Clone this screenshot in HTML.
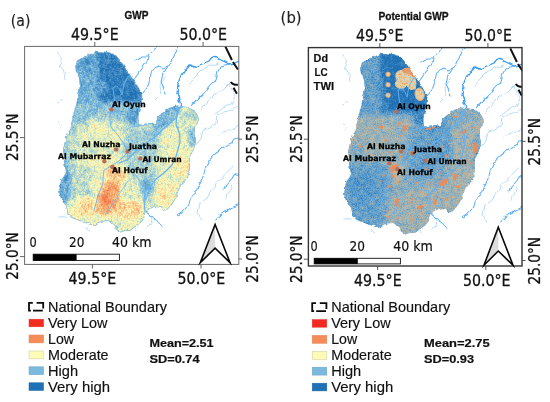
<!DOCTYPE html>
<html><head><meta charset="utf-8"><title>GWP maps</title>
<style>
html,body{margin:0;padding:0;background:#fff;overflow:hidden}
svg{display:block}
text{font-family:"DejaVu Sans","Liberation Sans",sans-serif;fill:#111}
.lab{font-family:"DejaVu Sans","Liberation Sans",sans-serif;font-weight:bold;font-size:7.75px;fill:#000;stroke:#000;stroke-width:0.25px}
.ax{font-size:16px;fill:#111;stroke:#111;stroke-width:0.3px}
.sc{font-size:13.7px;fill:#111;stroke:#111;stroke-width:0.2px}
.ttl{font-family:"Liberation Sans",sans-serif;font-weight:bold;font-size:11.6px;fill:#111;stroke:#111;stroke-width:0.3px}
.leg{font-family:"Liberation Sans",sans-serif;font-size:14.2px;fill:#111;stroke:#111;stroke-width:0.15px}
.st{font-family:"Liberation Sans",sans-serif;font-weight:bold;font-size:11.7px;fill:#111;stroke:#111;stroke-width:0.2px}
.pl{font-size:15.5px;fill:#222;stroke:#222;stroke-width:0.15px}
</style></head><body>
<svg width="550" height="402" viewBox="0 0 550 402">
<defs>
<clipPath id="reg"><path d="M93,53 L96,51.5 L99,51 L104,51.5 L110,52.6 L114,54 L117,56 L120,60 L123,64 L126,68.5 L129,73 L132.5,78 L136,83 L139,88 L141,92 L142.5,96 L142,99 L141,106 L139,113 L138.5,118 L139,124 L143,125 L150,124 L156,123 L156.5,120 L157,117 L160,114.5 L162,113 L166,110 L169,108 L174,106 L178,105.5 L182,106 L187,107 L192,109 L195,111.5 L197,114 L198.5,117 L199,120 L197,124 L195,127 L195,131 L195,135 L196,139 L196,143 L194,149 L192,153 L190,157 L190,161 L190,165 L190,169 L189.5,173 L188,177 L186,180 L183,183 L181,185 L179.5,189 L178,193 L176.5,197 L175,200 L173,203 L171,206 L167,210 L164,211 L162,211 L160,208 L157,207 L154,207 L151,208 L148,210 L145,213 L144.5,216 L144,219 L141,222.5 L138,225 L134,228 L130,231 L125,231 L122,232 L119,233 L116.5,229 L114,225 L111,222.5 L108,221 L103,221.5 L98,223 L95,225.5 L93,226 L88,224 L82,222 L78,220.5 L74,219 L70,217 L67,215 L67,210 L66,206 L63,202 L61,199 L59.5,195 L59,191 L61,180 L64,176 L66,172 L64.5,166 L64,160 L63,150 L65,140 L69,130 L72,120 L73,115 L76,105 L78,95 L79.6,85 L79,78 L76,71 L75,65 L78,60 L85,56Z"/></clipPath>
<filter id="rough" color-interpolation-filters="sRGB" filterUnits="userSpaceOnUse" x="40" y="35" width="180" height="215">
 <feTurbulence type="fractalNoise" baseFrequency="0.22" numOctaves="2" seed="2" result="t"/>
 <feDisplacementMap in="SourceGraphic" in2="t" scale="3.4" xChannelSelector="R" yChannelSelector="G"/>
</filter>
<filter id="btex" color-interpolation-filters="sRGB" filterUnits="userSpaceOnUse" x="95" y="60" width="50" height="45">
 <feTurbulence type="fractalNoise" baseFrequency="0.55" numOctaves="2" seed="7" result="t"/>
 <feColorMatrix in="t" type="matrix" values="0 0 0 0 0.95  0 0 0 0 0.64  0 0 0 0 0.42  6 0 0 0 -3.35" result="o"/>
 <feColorMatrix in="t" type="matrix" values="0 0 0 0 0.62  0 0 0 0 0.78  0 0 0 0 0.86  0 6 0 0 -3.5" result="bl"/>
 <feComposite in="o" in2="SourceGraphic" operator="atop" result="c1"/>
 <feComposite in="bl" in2="c1" operator="atop"/>
</filter>
<filter id="wig" color-interpolation-filters="sRGB" filterUnits="userSpaceOnUse" x="20" y="40" width="225" height="230">
 <feTurbulence type="fractalNoise" baseFrequency="0.13" numOctaves="2" seed="6" result="t"/>
 <feDisplacementMap in="SourceGraphic" in2="t" scale="4.5" xChannelSelector="R" yChannelSelector="G"/>
</filter>
<mask id="regm" maskUnits="userSpaceOnUse" x="40" y="35" width="180" height="215"><path d="M93,53 L96,51.5 L99,51 L104,51.5 L110,52.6 L114,54 L117,56 L120,60 L123,64 L126,68.5 L129,73 L132.5,78 L136,83 L139,88 L141,92 L142.5,96 L142,99 L141,106 L139,113 L138.5,118 L139,124 L143,125 L150,124 L156,123 L156.5,120 L157,117 L160,114.5 L162,113 L166,110 L169,108 L174,106 L178,105.5 L182,106 L187,107 L192,109 L195,111.5 L197,114 L198.5,117 L199,120 L197,124 L195,127 L195,131 L195,135 L196,139 L196,143 L194,149 L192,153 L190,157 L190,161 L190,165 L190,169 L189.5,173 L188,177 L186,180 L183,183 L181,185 L179.5,189 L178,193 L176.5,197 L175,200 L173,203 L171,206 L167,210 L164,211 L162,211 L160,208 L157,207 L154,207 L151,208 L148,210 L145,213 L144.5,216 L144,219 L141,222.5 L138,225 L134,228 L130,231 L125,231 L122,232 L119,233 L116.5,229 L114,225 L111,222.5 L108,221 L103,221.5 L98,223 L95,225.5 L93,226 L88,224 L82,222 L78,220.5 L74,219 L70,217 L67,215 L67,210 L66,206 L63,202 L61,199 L59.5,195 L59,191 L61,180 L64,176 L66,172 L64.5,166 L64,160 L63,150 L65,140 L69,130 L72,120 L73,115 L76,105 L78,95 L79.6,85 L79,78 L76,71 L75,65 L78,60 L85,56Z" fill="#fff" filter="url(#rough)"/></mask>
<clipPath id="fa"><rect x="24.6" y="46.4" width="214.2" height="218"/></clipPath>
<clipPath id="fb"><rect x="308.3" y="47.5" width="213.8" height="218"/></clipPath>
<filter id="clsA" color-interpolation-filters="sRGB" filterUnits="userSpaceOnUse" x="40" y="35" width="180" height="215">
 <feGaussianBlur in="SourceGraphic" stdDeviation="2.2" result="b"/>
 <feTurbulence type="fractalNoise" baseFrequency="0.7" numOctaves="2" seed="3" result="n1"/>
 <feColorMatrix in="n1" type="matrix" values="1 0 0 0 0  1 0 0 0 0  1 0 0 0 0  0 0 0 0 1" result="g1"/>
 <feTurbulence type="fractalNoise" baseFrequency="0.09" numOctaves="2" seed="11" result="n2"/>
 <feColorMatrix in="n2" type="matrix" values="1 0 0 0 0  1 0 0 0 0  1 0 0 0 0  0 0 0 0 1" result="g2"/>
 <feComposite in="b" in2="g1" operator="arithmetic" k1="0" k2="1" k3="0.3" k4="-0.15" result="s1"/>
 <feComposite in="s1" in2="g2" operator="arithmetic" k1="0" k2="1" k3="0.16" k4="-0.08" result="s2a"/>
 <feTurbulence type="fractalNoise" baseFrequency="0.3 0.22" numOctaves="2" seed="29" result="n3"/>
 <feColorMatrix in="n3" type="matrix" values="1 0 0 0 0  1 0 0 0 0  1 0 0 0 0  0 0 0 0 1" result="g3"/>
 <feComposite in="s2a" in2="g3" operator="arithmetic" k1="0" k2="1" k3="0.26" k4="-0.13" result="s2"/>
 <feComponentTransfer in="s2">
  <feFuncR type="table" tableValues="0.910 0.961 0.992 0.490 0.129"/>
  <feFuncG type="table" tableValues="0.271 0.569 0.984 0.729 0.443"/>
  <feFuncB type="table" tableValues="0.184 0.361 0.722 0.871 0.710"/>
 </feComponentTransfer>
</filter>
<filter id="clsB" color-interpolation-filters="sRGB" filterUnits="userSpaceOnUse" x="40" y="35" width="180" height="215">
 <feGaussianBlur in="SourceGraphic" stdDeviation="2.2" result="b"/>
 <feTurbulence type="fractalNoise" baseFrequency="0.8" numOctaves="2" seed="5" result="n1"/>
 <feColorMatrix in="n1" type="matrix" values="1 0 0 0 0  1 0 0 0 0  1 0 0 0 0  0 0 0 0 1" result="g1"/>
 <feTurbulence type="fractalNoise" baseFrequency="0.2" numOctaves="2" seed="21" result="n2"/>
 <feColorMatrix in="n2" type="matrix" values="1 0 0 0 0  1 0 0 0 0  1 0 0 0 0  0 0 0 0 1" result="g2"/>
 <feComposite in="b" in2="g1" operator="arithmetic" k1="0" k2="1" k3="0.5" k4="-0.25" result="s1"/>
 <feComposite in="s1" in2="g2" operator="arithmetic" k1="0" k2="1" k3="0.3" k4="-0.15" result="s2"/>
 <feComponentTransfer in="s2" result="c">
  <feFuncR type="table" tableValues="0.941 0.914 0.706 0.365 0.129"/>
  <feFuncG type="table" tableValues="0.510 0.659 0.725 0.624 0.443"/>
  <feFuncB type="table" tableValues="0.306 0.471 0.671 0.816 0.710"/>
 </feComponentTransfer>
 <feGaussianBlur in="c" stdDeviation="0.4"/>
</filter>
<filter id="orB" color-interpolation-filters="sRGB" filterUnits="userSpaceOnUse" x="40" y="35" width="180" height="215">
 <feTurbulence type="fractalNoise" baseFrequency="0.17" numOctaves="3" seed="8"/>
 <feColorMatrix type="matrix" values="0 0 0 0 0.94  0 0 0 0 0.55  0 0 0 0 0.33  10 0 0 0 -6.9" result="o"/>
 <feComposite in="o" in2="SourceGraphic" operator="in"/>
</filter>
</defs>
<rect width="550" height="402" fill="#fff"/>

<!-- ================= MAP A ================= -->
<g clip-path="url(#fa)">
 <g filter="url(#wig)"><path d="M189,84 L195,78 L203,70 L209,66 L219,63" fill="none" stroke="#b4d9fa" stroke-width="0.95" stroke-linejoin="round" stroke-linecap="round"/><path d="M201,110 L207,102 L215,94 L223,90 L229,84 L231,82" fill="none" stroke="#b4d9fa" stroke-width="0.95" stroke-linejoin="round" stroke-linecap="round"/><path d="M215,114 L223,108 L231,104 L235,96 L229,84" fill="none" stroke="#b4d9fa" stroke-width="0.95" stroke-linejoin="round" stroke-linecap="round"/><path d="M155,100 L161,94 L159,86 L165,78" fill="none" stroke="#b4d9fa" stroke-width="0.95" stroke-linejoin="round" stroke-linecap="round"/><path d="M239,105.5 L229,110.7 L222,112.4 L216.8,116 L216,123 L210,128 L203,130 L201,138.5 L197.6,145.5" fill="none" stroke="#b4d9fa" stroke-width="0.95" stroke-linejoin="round" stroke-linecap="round"/><path d="M239,124.6 L230.7,130 L222,132.5 L218.5,135" fill="none" stroke="#b4d9fa" stroke-width="0.95" stroke-linejoin="round" stroke-linecap="round"/><path d="M233.4,166 L224,175.5 L216.6,183 L211,190.4 L207.3,198 L199.9,203.5 L198,212.8 L201.7,220" fill="none" stroke="#b4d9fa" stroke-width="0.95" stroke-linejoin="round" stroke-linecap="round"/><path d="M231.6,185 L229.7,192 L226,198" fill="none" stroke="#b4d9fa" stroke-width="0.95" stroke-linejoin="round" stroke-linecap="round"/><path d="M57.6,53.5 L61.3,58.4 L60,66 L63.8,71 L65,79.6" fill="none" stroke="#b4d9fa" stroke-width="0.95" stroke-linejoin="round" stroke-linecap="round"/><path d="M57.6,103 L62.6,99.5" fill="none" stroke="#b4d9fa" stroke-width="0.95" stroke-linejoin="round" stroke-linecap="round"/><path d="M57.6,120.6 L61.3,125.6 L58.8,129" fill="none" stroke="#b4d9fa" stroke-width="0.95" stroke-linejoin="round" stroke-linecap="round"/><path d="M58.8,216 L66.3,218.4" fill="none" stroke="#b4d9fa" stroke-width="0.95" stroke-linejoin="round" stroke-linecap="round"/><path d="M85,227 L88.7,232" fill="none" stroke="#b4d9fa" stroke-width="0.95" stroke-linejoin="round" stroke-linecap="round"/><path d="M136,217 L132,224 L136,230" fill="none" stroke="#b4d9fa" stroke-width="0.95" stroke-linejoin="round" stroke-linecap="round"/><path d="M150,215 L152,222 L148,228" fill="none" stroke="#b4d9fa" stroke-width="0.95" stroke-linejoin="round" stroke-linecap="round"/><path d="M135,78 L141,70 L147,62 L148,56 L154,50 L157,46" fill="none" stroke="#5fb0f6" stroke-width="1.05" stroke-linejoin="round" stroke-linecap="round"/><path d="M135,60 L143,56 L148,56" fill="none" stroke="#5fb0f6" stroke-width="1.05" stroke-linejoin="round" stroke-linecap="round"/><path d="M143,92 L149,84 L150,74 L155,68 L159,66 L163,68 L168,66 L172,60 L175,54 L178,48 L180,46" fill="none" stroke="#5fb0f6" stroke-width="1.05" stroke-linejoin="round" stroke-linecap="round"/><path d="M168,66 L163,74 L161,82 L164,88 L166,94" fill="none" stroke="#5fb0f6" stroke-width="1.05" stroke-linejoin="round" stroke-linecap="round"/><path d="M193,104 L199,98 L205,92 L209,86 L215,80 L217,72 L221,66 L229,64" fill="none" stroke="#5fb0f6" stroke-width="1.05" stroke-linejoin="round" stroke-linecap="round"/><path d="M203,95 L197.6,100 L192.4,105.5" fill="none" stroke="#5fb0f6" stroke-width="1.05" stroke-linejoin="round" stroke-linecap="round"/><path d="M239,137.7 L232.5,139.4 L229,145.5 L222,149 L215,154 L209,160.6 L205.4,168 L203.6,175.5 L199.9,183 L198,190.4 L190.5,198 L188.7,205.4 L183,211 L177.5,214.7" fill="none" stroke="#5fb0f6" stroke-width="1.05" stroke-linejoin="round" stroke-linecap="round"/><path d="M239,175.5 L234.4,174.6 L231.6,179 L226,185 L224,190" fill="none" stroke="#5fb0f6" stroke-width="1.05" stroke-linejoin="round" stroke-linecap="round"/><path d="M239,204.4 L231.6,208 L227.8,211 L220.4,214.7 L214.8,220" fill="none" stroke="#5fb0f6" stroke-width="1.05" stroke-linejoin="round" stroke-linecap="round"/><path d="M145,211 L150,215 L158,223 L162,227" fill="none" stroke="#5fb0f6" stroke-width="1.05" stroke-linejoin="round" stroke-linecap="round"/><path d="M180,110 L180.6,104 L177,94 L178,84 L180,78 L185,70 L189,65 L195,67 L202,64 L209,61 L212,57 L217,58 L223,61 L229,64 L235,63 L239,61" fill="none" stroke="#3b9cf1" stroke-width="1.35" stroke-linejoin="round" stroke-linecap="round"/></g>
 <g mask="url(#regm)">
  <g filter="url(#clsA)"><rect x="40" y="35" width="180" height="215" fill="#8c8c8c"/><path d="M70,45 L150,45 L150,100 L140,110 L70,110Z" fill="#dbdbdb" opacity="1"/><path d="M70,50 L95,50 L97,104 L70,108Z" fill="#c9c9c9" opacity="1"/><path d="M99,53 L116,53 L131,76 L140,95 L136,104 L120,101 L105,101 L100,86Z" fill="#f2f2f2" opacity="1"/><ellipse cx="103" cy="85" rx="3" ry="6" fill="#c7c7c7" opacity="0.8"/><ellipse cx="88" cy="66" rx="6" ry="10" fill="#dbdbdb" opacity="0.7" transform="rotate(-30 88 66)"/><path d="M66,103 L145,103 L145,119 L66,125Z" fill="#b8b8b8" opacity="1"/><ellipse cx="134" cy="116" rx="6" ry="9" fill="#d9d9d9" opacity="0.9"/><ellipse cx="98" cy="121" rx="16" ry="4" fill="#999999" opacity="0.9" transform="rotate(-8 98 121)"/><path d="M58,128 L78,124 L76,180 L56,180Z" fill="#a6a6a6" opacity="1"/><ellipse cx="62" cy="160" rx="4" ry="18" fill="#bdbdbd" opacity="0.8"/><ellipse cx="101" cy="141" rx="22" ry="20" fill="#8f8f8f" opacity="1"/><ellipse cx="100" cy="131" rx="10" ry="8" fill="#828282" opacity="1"/><ellipse cx="100" cy="160" rx="10" ry="5" fill="#707070" opacity="0.9"/><ellipse cx="113" cy="170" rx="7" ry="5" fill="#616161" opacity="0.9"/><path d="M125,126 L160,124 L160,150 L150,170 L132,180 L124,160Z" fill="#ababab" opacity="1"/><ellipse cx="133" cy="120" rx="8" ry="5" fill="#d1d1d1" opacity="0.9"/><path d="M160,128 L200,120 L200,185 L170,212 L160,190Z" fill="#878787" opacity="1"/><path d="M154,100 L182,100 L178,116 L165,128 L154,134Z" fill="#c7c7c7" opacity="1"/><ellipse cx="190" cy="115" rx="10" ry="7" fill="#9e9e9e" opacity="0.9"/><ellipse cx="192" cy="137" rx="4.5" ry="11" fill="#c4c4c4" opacity="0.95"/><ellipse cx="184" cy="165" rx="7" ry="12" fill="#737373" opacity="0.9"/><path d="M55,165 L69,165 L71,198 L64,206 L55,200Z" fill="#cccccc" opacity="1"/><ellipse cx="66" cy="178" rx="3.5" ry="6" fill="#e6e6e6" opacity="0.8"/><path d="M69,166 L92,168 L90,198 L72,204Z" fill="#9e9e9e" opacity="1"/><ellipse cx="108" cy="198" rx="11" ry="19" fill="#4c4c4c" opacity="1" transform="rotate(22 108 198)"/><ellipse cx="107" cy="197" rx="5" ry="11" fill="#3d3d3d" opacity="0.9" transform="rotate(22 107 197)"/><ellipse cx="87" cy="207" rx="13" ry="10" fill="#696969" opacity="0.95"/><ellipse cx="128" cy="210" rx="15" ry="10" fill="#666666" opacity="0.95"/><ellipse cx="117" cy="177" rx="11" ry="7" fill="#616161" opacity="0.9"/><ellipse cx="147" cy="186" rx="9" ry="16" fill="#b0b0b0" opacity="0.95" transform="rotate(12 147 186)"/><ellipse cx="147" cy="184" rx="4" ry="8" fill="#c4c4c4" opacity="0.9" transform="rotate(12 147 184)"/><ellipse cx="166" cy="195" rx="9" ry="14" fill="#787878" opacity="0.9" transform="rotate(20 166 195)"/></g>
  <path d="M93,53 L96,51.5 L99,51 L104,51.5 L110,52.6 L114,54 L117,56 L120,60 L123,64 L126,68.5 L129,73 L132.5,78 L136,83 L139,88 L141,92 L142.5,96 L142,99 L141,106 L139,113 L138.5,118 L139,124 L143,125 L150,124 L156,123 L156.5,120 L157,117 L160,114.5 L162,113 L166,110 L169,108 L174,106 L178,105.5 L182,106 L187,107 L192,109 L195,111.5 L197,114 L198.5,117 L199,120 L197,124 L195,127 L195,131 L195,135 L196,139 L196,143 L194,149 L192,153 L190,157 L190,161 L190,165 L190,169 L189.5,173 L188,177 L186,180 L183,183 L181,185 L179.5,189 L178,193 L176.5,197 L175,200 L173,203 L171,206 L167,210 L164,211 L162,211 L160,208 L157,207 L154,207 L151,208 L148,210 L145,213 L144.5,216 L144,219 L141,222.5 L138,225 L134,228 L130,231 L125,231 L122,232 L119,233 L116.5,229 L114,225 L111,222.5 L108,221 L103,221.5 L98,223 L95,225.5 L93,226 L88,224 L82,222 L78,220.5 L74,219 L70,217 L67,215 L67,210 L66,206 L63,202 L61,199 L59.5,195 L59,191 L61,180 L64,176 L66,172 L64.5,166 L64,160 L63,150 L65,140 L69,130 L72,120 L73,115 L76,105 L78,95 L79.6,85 L79,78 L76,71 L75,65 L78,60 L85,56Z" fill="none" stroke="#6fb0dc" stroke-width="1.6" opacity="0.75" filter="url(#rough)"/>
  <path d="M180,107 L176,118 L165.5,127 L156,136 L138,149 L127,160 L119,163" fill="none" stroke="#62b2f3" stroke-width="1.2" stroke-linejoin="round" stroke-linecap="round"/><path d="M180,104 L178.5,105.5 L176.7,116 L176,124.6 L179.4,133 L180,142 L177.6,150.7 L176,156 L172,165 L164,173 L156,179 L150,187 L145,191 L144,201 L145,211" fill="none" stroke="#62b2f3" stroke-width="1.2" stroke-linejoin="round" stroke-linecap="round"/><path d="M109.5,110 L112,106 L115,102.5 L114,96 L113,88 L117,86 L120,90 L122,95 L124,84 L128,77 L133,75 L135,78" fill="none" stroke="#66b4f3" stroke-width="0.9" stroke-linejoin="round" stroke-linecap="round"/><path d="M111,110 L109.5,116 L111,127 L117,134 L122,141 L128,152 L119,161 L109.5,167 L104,170 L103,178 L103,183 L98,196 L94,210.5" fill="none" stroke="#66b4f3" stroke-width="0.9" stroke-linejoin="round" stroke-linecap="round"/><path d="M128,181 L113,203 L106,214" fill="none" stroke="#6ab6f4" stroke-width="0.8" stroke-linejoin="round" stroke-linecap="round"/><path d="M135,174 L142,185 L146,196 L144,208.6" fill="none" stroke="#6ab6f4" stroke-width="0.8" stroke-linejoin="round" stroke-linecap="round"/><path d="M126,130 L131,127 L142,125 L155,123" fill="none" stroke="#6ab6f4" stroke-width="0.8" stroke-linejoin="round" stroke-linecap="round"/>
 </g>
 <path d="M225.3,46.4 L231.9,60 M232.9,62 L237.9,69.5 M230.9,81.8 Q232,84.8 237.9,84.8 M233.5,87.8 L236.9,93.8" stroke="#111" stroke-width="2" fill="none"/>
</g>
<circle cx="111.4" cy="109.4" r="2.2" fill="#b56e58"/><circle cx="116" cy="149.4" r="2.2" fill="#b56e58"/><circle cx="127.6" cy="151.4" r="2.2" fill="#b56e58"/><circle cx="104.4" cy="161.2" r="2.2" fill="#b56e58"/><circle cx="140.4" cy="158.4" r="2.2" fill="#b56e58"/><circle cx="112.4" cy="167" r="2.2" fill="#b56e58"/><text x="112" y="107" textLength="33.6" lengthAdjust="spacingAndGlyphs" class="lab">Al Oyun</text><text x="82" y="146.6" textLength="38.4" lengthAdjust="spacingAndGlyphs" class="lab">Al Nuzha</text><text x="129" y="149.4" textLength="28" lengthAdjust="spacingAndGlyphs" class="lab">Juatha</text><text x="58" y="159" textLength="53" lengthAdjust="spacingAndGlyphs" class="lab">Al Mubarraz</text><text x="142.4" y="161.5" textLength="39.2" lengthAdjust="spacingAndGlyphs" class="lab">Al Umran</text><text x="112" y="173" textLength="35.6" lengthAdjust="spacingAndGlyphs" class="lab">Al Hofuf</text>
<rect x="24.6" y="46.4" width="214.2" height="218" fill="none" stroke="#6a6a6a" stroke-width="1"/>
<path d="M94.8,42 V46.4 M203.1,42 V46.4 M92.4,264.4 V268.5 M201,264.4 V268.5 M20,137.6 H24.6 M20,256.6 H24.6 M238.8,139.2 H242 M238.8,259 H242" stroke="#555" stroke-width="0.9" fill="none"/>
<text class="ax" x="71" y="39.8" textLength="47.6" lengthAdjust="spacingAndGlyphs">49.5°E</text>
<text class="ax" x="179.4" y="39.8" textLength="47.6" lengthAdjust="spacingAndGlyphs">50.0°E</text>
<text class="ax" x="68.6" y="284" textLength="47.6" lengthAdjust="spacingAndGlyphs">49.5°E</text>
<text class="ax" x="177.6" y="284" textLength="47.6" lengthAdjust="spacingAndGlyphs">50.0°E</text>
<text class="ax" transform="translate(18.4,160.9) rotate(-90)" textLength="47.5" lengthAdjust="spacingAndGlyphs">25.5°N</text>
<text class="ax" transform="translate(18.4,279.8) rotate(-90)" textLength="47.5" lengthAdjust="spacingAndGlyphs">25.0°N</text>
<text class="ax" transform="translate(257.5,163.1) rotate(-90)" textLength="47.5" lengthAdjust="spacingAndGlyphs">25.5°N</text>
<text class="ax" transform="translate(257.5,282.7) rotate(-90)" textLength="47.5" lengthAdjust="spacingAndGlyphs">25.0°N</text>
<text class="pl" x="10.8" y="25.6" textLength="19.6" lengthAdjust="spacingAndGlyphs">(a)</text>
<text class="ttl" x="124.4" y="19" textLength="24" lengthAdjust="spacingAndGlyphs">GWP</text>
<!-- scale bar A -->
<rect x="33.2" y="254.2" width="86.2" height="6.3" fill="#fff" stroke="#111" stroke-width="0.9"/>
<rect x="33.2" y="254.2" width="43.4" height="6.3" fill="#000"/>
<text class="sc" x="29.4" y="247.1" textLength="7.2" lengthAdjust="spacingAndGlyphs">0</text>
<text class="sc" x="69" y="247.1" textLength="15.4" lengthAdjust="spacingAndGlyphs">20</text>
<text class="sc" x="112" y="247.1" textLength="39.6" lengthAdjust="spacingAndGlyphs">40 km</text>
<!-- north arrow A -->
<path d="M215.1,224.5 L230,262.6 L215.1,248.2 L200.3,262.6 Z" fill="#fff"/>
<path d="M215.1,224.5 L200.3,262.6 L215.1,248.2 Z" fill="#dcdcdc"/>
<path d="M215.1,224.5 L230,262.6 L215.1,248.2 L200.3,262.6 Z" fill="none" stroke="#0a0a0a" stroke-width="1.6" stroke-linejoin="miter" stroke-miterlimit="10"/>

<!-- legend A -->
<g id="legA">
<path d="M32.8,302.8 H29 V310.7 H30.9 M36.6,302.8 H43.2 V308.6 M33,310.7 H42.8" fill="none" stroke="#0a0a0a" stroke-width="1.8"/>
<rect x="29" y="319.2" width="14.6" height="7.6" fill="#f32a20" stroke="#e0352a" stroke-width="0.5"/>
<rect x="29" y="335" width="14.6" height="7.9" fill="#f68d58" stroke="#e08352" stroke-width="0.5"/>
<rect x="29" y="351" width="14.6" height="7.9" fill="#fdfbb6" stroke="#c9c9a2" stroke-width="0.5"/>
<rect x="29" y="366.8" width="14.6" height="7.9" fill="#7bb9dd" stroke="#6ba3c4" stroke-width="0.5"/>
<rect x="29" y="382.8" width="14.6" height="7.7" fill="#2070b5" stroke="#1c66a6" stroke-width="0.5"/>
<text class="leg" x="48" y="311.7" textLength="119" lengthAdjust="spacingAndGlyphs">National Boundary</text>
<text class="leg" x="48" y="327.7" textLength="59.4" lengthAdjust="spacingAndGlyphs">Very Low</text>
<text class="leg" x="48" y="343.7" textLength="26" lengthAdjust="spacingAndGlyphs">Low</text>
<text class="leg" x="48" y="359.8" textLength="60.6" lengthAdjust="spacingAndGlyphs">Moderate</text>
<text class="leg" x="48" y="375.7" textLength="30" lengthAdjust="spacingAndGlyphs">High</text>
<text class="leg" x="48" y="391.5" textLength="62" lengthAdjust="spacingAndGlyphs">Very high</text>
</g>
<text class="st" x="149.4" y="347.3" textLength="64.2" lengthAdjust="spacingAndGlyphs">Mean=2.51</text>
<text class="st" x="149.4" y="362.8" textLength="50.2" lengthAdjust="spacingAndGlyphs">SD=0.74</text>

<!-- ================= MAP B ================= -->
<g clip-path="url(#fb)">
 <g transform="translate(285,2)">
 <g filter="url(#wig)"><path d="M189,84 L195,78 L203,70 L209,66 L219,63" fill="none" stroke="#b4d9fa" stroke-width="0.95" stroke-linejoin="round" stroke-linecap="round"/><path d="M201,110 L207,102 L215,94 L223,90 L229,84 L231,82" fill="none" stroke="#b4d9fa" stroke-width="0.95" stroke-linejoin="round" stroke-linecap="round"/><path d="M215,114 L223,108 L231,104 L235,96 L229,84" fill="none" stroke="#b4d9fa" stroke-width="0.95" stroke-linejoin="round" stroke-linecap="round"/><path d="M155,100 L161,94 L159,86 L165,78" fill="none" stroke="#b4d9fa" stroke-width="0.95" stroke-linejoin="round" stroke-linecap="round"/><path d="M239,105.5 L229,110.7 L222,112.4 L216.8,116 L216,123 L210,128 L203,130 L201,138.5 L197.6,145.5" fill="none" stroke="#b4d9fa" stroke-width="0.95" stroke-linejoin="round" stroke-linecap="round"/><path d="M239,124.6 L230.7,130 L222,132.5 L218.5,135" fill="none" stroke="#b4d9fa" stroke-width="0.95" stroke-linejoin="round" stroke-linecap="round"/><path d="M233.4,166 L224,175.5 L216.6,183 L211,190.4 L207.3,198 L199.9,203.5 L198,212.8 L201.7,220" fill="none" stroke="#b4d9fa" stroke-width="0.95" stroke-linejoin="round" stroke-linecap="round"/><path d="M231.6,185 L229.7,192 L226,198" fill="none" stroke="#b4d9fa" stroke-width="0.95" stroke-linejoin="round" stroke-linecap="round"/><path d="M57.6,53.5 L61.3,58.4 L60,66 L63.8,71 L65,79.6" fill="none" stroke="#b4d9fa" stroke-width="0.95" stroke-linejoin="round" stroke-linecap="round"/><path d="M57.6,103 L62.6,99.5" fill="none" stroke="#b4d9fa" stroke-width="0.95" stroke-linejoin="round" stroke-linecap="round"/><path d="M57.6,120.6 L61.3,125.6 L58.8,129" fill="none" stroke="#b4d9fa" stroke-width="0.95" stroke-linejoin="round" stroke-linecap="round"/><path d="M58.8,216 L66.3,218.4" fill="none" stroke="#b4d9fa" stroke-width="0.95" stroke-linejoin="round" stroke-linecap="round"/><path d="M85,227 L88.7,232" fill="none" stroke="#b4d9fa" stroke-width="0.95" stroke-linejoin="round" stroke-linecap="round"/><path d="M136,217 L132,224 L136,230" fill="none" stroke="#b4d9fa" stroke-width="0.95" stroke-linejoin="round" stroke-linecap="round"/><path d="M150,215 L152,222 L148,228" fill="none" stroke="#b4d9fa" stroke-width="0.95" stroke-linejoin="round" stroke-linecap="round"/><path d="M135,78 L141,70 L147,62 L148,56 L154,50 L157,46" fill="none" stroke="#5fb0f6" stroke-width="1.05" stroke-linejoin="round" stroke-linecap="round"/><path d="M135,60 L143,56 L148,56" fill="none" stroke="#5fb0f6" stroke-width="1.05" stroke-linejoin="round" stroke-linecap="round"/><path d="M143,92 L149,84 L150,74 L155,68 L159,66 L163,68 L168,66 L172,60 L175,54 L178,48 L180,46" fill="none" stroke="#5fb0f6" stroke-width="1.05" stroke-linejoin="round" stroke-linecap="round"/><path d="M168,66 L163,74 L161,82 L164,88 L166,94" fill="none" stroke="#5fb0f6" stroke-width="1.05" stroke-linejoin="round" stroke-linecap="round"/><path d="M193,104 L199,98 L205,92 L209,86 L215,80 L217,72 L221,66 L229,64" fill="none" stroke="#5fb0f6" stroke-width="1.05" stroke-linejoin="round" stroke-linecap="round"/><path d="M203,95 L197.6,100 L192.4,105.5" fill="none" stroke="#5fb0f6" stroke-width="1.05" stroke-linejoin="round" stroke-linecap="round"/><path d="M239,137.7 L232.5,139.4 L229,145.5 L222,149 L215,154 L209,160.6 L205.4,168 L203.6,175.5 L199.9,183 L198,190.4 L190.5,198 L188.7,205.4 L183,211 L177.5,214.7" fill="none" stroke="#5fb0f6" stroke-width="1.05" stroke-linejoin="round" stroke-linecap="round"/><path d="M239,175.5 L234.4,174.6 L231.6,179 L226,185 L224,190" fill="none" stroke="#5fb0f6" stroke-width="1.05" stroke-linejoin="round" stroke-linecap="round"/><path d="M239,204.4 L231.6,208 L227.8,211 L220.4,214.7 L214.8,220" fill="none" stroke="#5fb0f6" stroke-width="1.05" stroke-linejoin="round" stroke-linecap="round"/><path d="M145,211 L150,215 L158,223 L162,227" fill="none" stroke="#5fb0f6" stroke-width="1.05" stroke-linejoin="round" stroke-linecap="round"/><path d="M180,110 L180.6,104 L177,94 L178,84 L180,78 L185,70 L189,65 L195,67 L202,64 L209,61 L212,57 L217,58 L223,61 L229,64 L235,63 L239,61" fill="none" stroke="#3b9cf1" stroke-width="1.35" stroke-linejoin="round" stroke-linecap="round"/></g>
 <g mask="url(#regm)">
  <g filter="url(#clsB)"><rect x="40" y="35" width="180" height="215" fill="#a1a1a1"/><path d="M70,45 L150,45 L150,100 L140,112 L70,112Z" fill="#dbdbdb" opacity="1"/><path d="M70,50 L94,50 L96,110 L70,112Z" fill="#bababa" opacity="1"/><path d="M97,52 L116,52 L132,76 L141,95 L138,110 L120,108 L101,108Z" fill="#ffffff" opacity="1"/><ellipse cx="135" cy="116" rx="6" ry="8" fill="#e6e6e6" opacity="0.9"/><path d="M62,119 L80,114 L100,117 L124,113 L122,150 L100,160 L62,158Z" fill="#919191" opacity="1"/><ellipse cx="72" cy="150" rx="6" ry="12" fill="#adadad" opacity="0.8"/><path d="M55,160 L100,162 L108,195 L95,228 L55,220Z" fill="#bababa" opacity="1"/><ellipse cx="78" cy="185" rx="12" ry="14" fill="#cccccc" opacity="0.8"/><path d="M128,124 L165,120 L170,150 L150,174 L130,178 L122,160Z" fill="#b8b8b8" opacity="1"/><ellipse cx="124" cy="150" rx="6" ry="12" fill="#b2b2b2" opacity="0.9"/><ellipse cx="150" cy="122" rx="10" ry="7" fill="#d6d6d6" opacity="0.9"/><path d="M166,126 L200,112 L200,185 L170,212 L158,192 L168,160Z" fill="#8f8f8f" opacity="1"/><path d="M104,192 L158,180 L175,205 L120,235 L98,226Z" fill="#919191" opacity="1"/><ellipse cx="192" cy="150" rx="4" ry="16" fill="#b8b8b8" opacity="0.8"/><ellipse cx="112" cy="168" rx="6" ry="7" fill="#5c5c5c" opacity="0.9"/><ellipse cx="111" cy="180" rx="3" ry="6" fill="#7a7a7a" opacity="0.8"/></g>
  <path d="M68,124 L100,116 L140,126 L160,120 L170,104 L205,104 L205,215 L130,240 L100,230 L102,195 L92,172 L70,160Z" filter="url(#orB)"/>
  <g filter="url(#btex)" transform="translate(-0.6,-0.8)"><path d="M111.5,72.7 L113.4,70.2 L117.8,69 L120.9,67.1 L125.2,67.1 L127.7,70.2 L130.2,74.5 L130.9,77.7 L131.5,82.6 L130.9,87.6 L126.5,88.2 L124,86.4 L122.1,83.9 L120.3,86.4 L117.8,87.6 L114.7,87 L111.5,85.1 L110.9,82 L112.8,78.9 L111.5,75.8Z" fill="#e4d3a4" stroke="#e4d3a4" stroke-width="1" stroke-linejoin="round"/><path d="M117.8,69 L120.9,67.1 L125.2,67.1 L127.7,70.2 L130.2,74.5 L130.9,77.7 L128.4,75.8 L125.9,72.7 L122.1,72.1 L119,71.4Z" fill="#f39058" stroke="#f39058" stroke-width="0.6" stroke-linejoin="round"/><ellipse cx="135.2" cy="93.2" rx="4.6" ry="6.4" fill="#e6cfa0" stroke="#f0a870" stroke-width="0.8" transform="rotate(-12 135.2 93.2)"/><path d="M112,80 q3,2 6,0 M114,75 q4,3 8,1 M118,84 q2,-3 5,-2 M124,80 q2,2 5,1" stroke="#f1b482" stroke-width="0.9" fill="none"/><circle cx="103.7" cy="73.1" r="2.3" fill="#efcf9c" stroke="#f0a56c" stroke-width="0.7"/><circle cx="103.7" cy="83.5" r="2.3" fill="#efcf9c" stroke="#f0a56c" stroke-width="0.7"/><circle cx="103.7" cy="94.1" r="2.3" fill="#efcf9c" stroke="#f0a56c" stroke-width="0.7"/></g><ellipse cx="190" cy="146" rx="2" ry="6" fill="#f18a52" transform="rotate(0 190 146)"/><ellipse cx="158" cy="180" rx="5" ry="3.5" fill="#f18a52" transform="rotate(-35 158 180)"/><ellipse cx="178" cy="129.5" rx="2.5" ry="2.2" fill="#f18a52" transform="rotate(0 178 129.5)"/><ellipse cx="109" cy="166" rx="5" ry="3" fill="#f18a52" transform="rotate(-30 109 166)"/><ellipse cx="112" cy="200" rx="1.6" ry="4" fill="#f18a52" transform="rotate(10 112 200)"/><ellipse cx="135" cy="205" rx="3" ry="1.6" fill="#f18a52" transform="rotate(-20 135 205)"/><ellipse cx="150" cy="200" rx="1.5" ry="3" fill="#f18a52" transform="rotate(0 150 200)"/><ellipse cx="170" cy="175" rx="1.5" ry="3.5" fill="#f18a52" transform="rotate(20 170 175)"/><ellipse cx="96" cy="125" rx="2.5" ry="1.5" fill="#f18a52" transform="rotate(0 96 125)"/><ellipse cx="120" cy="126" rx="1.8" ry="3" fill="#f18a52" transform="rotate(0 120 126)"/>
  <path d="M180,107 L176,118 L165.5,127 L156,136 L138,149 L127,160 L119,163" fill="none" stroke="#62b2f3" stroke-width="1.2" stroke-linejoin="round" stroke-linecap="round"/><path d="M180,104 L178.5,105.5 L176.7,116 L176,124.6 L179.4,133 L180,142 L177.6,150.7 L176,156 L172,165 L164,173 L156,179 L150,187 L145,191 L144,201 L145,211" fill="none" stroke="#62b2f3" stroke-width="1.2" stroke-linejoin="round" stroke-linecap="round"/><path d="M109.5,110 L112,106 L115,102.5 L114,96 L113,88 L117,86 L120,90 L122,95 L124,84 L128,77 L133,75 L135,78" fill="none" stroke="#66b4f3" stroke-width="0.9" stroke-linejoin="round" stroke-linecap="round"/><path d="M111,110 L109.5,116 L111,127 L117,134 L122,141 L128,152 L119,161 L109.5,167 L104,170 L103,178 L103,183 L98,196 L94,210.5" fill="none" stroke="#66b4f3" stroke-width="0.9" stroke-linejoin="round" stroke-linecap="round"/><path d="M128,181 L113,203 L106,214" fill="none" stroke="#6ab6f4" stroke-width="0.8" stroke-linejoin="round" stroke-linecap="round"/><path d="M135,174 L142,185 L146,196 L144,208.6" fill="none" stroke="#6ab6f4" stroke-width="0.8" stroke-linejoin="round" stroke-linecap="round"/><path d="M126,130 L131,127 L142,125 L155,123" fill="none" stroke="#6ab6f4" stroke-width="0.8" stroke-linejoin="round" stroke-linecap="round"/>
 </g>
 <path d="M225.3,46.4 L231.9,60 M232.9,62 L237.9,69.5 M230.9,81.8 Q232,84.8 237.9,84.8 M233.5,87.8 L236.9,93.8" stroke="#111" stroke-width="2" fill="none"/>
 </g>
</g>
<circle cx="396.4" cy="111.6" r="2.2" fill="#b56e58"/><circle cx="401" cy="151.6" r="2.2" fill="#b56e58"/><circle cx="412.6" cy="153.6" r="2.2" fill="#b56e58"/><circle cx="389.4" cy="163.4" r="2.2" fill="#b56e58"/><circle cx="425.4" cy="160.6" r="2.2" fill="#b56e58"/><circle cx="397.4" cy="169.2" r="2.2" fill="#b56e58"/><text x="397" y="109.2" textLength="33.6" lengthAdjust="spacingAndGlyphs" class="lab">Al Oyun</text><text x="367" y="148.8" textLength="38.4" lengthAdjust="spacingAndGlyphs" class="lab">Al Nuzha</text><text x="414" y="151.6" textLength="28" lengthAdjust="spacingAndGlyphs" class="lab">Juatha</text><text x="343" y="161.2" textLength="53" lengthAdjust="spacingAndGlyphs" class="lab">Al Mubarraz</text><text x="427.4" y="163.7" textLength="39.2" lengthAdjust="spacingAndGlyphs" class="lab">Al Umran</text><text x="397" y="175.2" textLength="35.6" lengthAdjust="spacingAndGlyphs" class="lab">Al Hofuf</text>
<rect x="308.4" y="47.6" width="213.6" height="218.4" fill="none" stroke="#333" stroke-width="1.4"/>
<path d="M379.8,43 V47.5 M487.9,43 V47.5 M377.6,266 V270 M485.8,266 V270 M303.8,139.2 H308.3 M303.8,259.2 H308.3 M522.1,141.4 H525.5 M522.1,260.5 H525.5" stroke="#444" stroke-width="0.9" fill="none"/>
<text class="ax" x="356" y="41.4" textLength="47.4" lengthAdjust="spacingAndGlyphs">49.5°E</text>
<text class="ax" x="464.6" y="41.4" textLength="47.4" lengthAdjust="spacingAndGlyphs">50.0°E</text>
<text class="ax" x="354" y="286" textLength="47.6" lengthAdjust="spacingAndGlyphs">49.5°E</text>
<text class="ax" x="462.9" y="286" textLength="47.6" lengthAdjust="spacingAndGlyphs">50.0°E</text>
<text class="ax" transform="translate(302.4,162.7) rotate(-90)" textLength="47.5" lengthAdjust="spacingAndGlyphs">25.5°N</text>
<text class="ax" transform="translate(302.4,283) rotate(-90)" textLength="47.5" lengthAdjust="spacingAndGlyphs">25.0°N</text>
<text class="ax" transform="translate(540.4,165.4) rotate(-90)" textLength="47.5" lengthAdjust="spacingAndGlyphs">25.5°N</text>
<text class="ax" transform="translate(540.4,284.5) rotate(-90)" textLength="47.5" lengthAdjust="spacingAndGlyphs">25.0°N</text>
<text class="pl" x="280.6" y="22.6" textLength="21" lengthAdjust="spacingAndGlyphs">(b)</text>
<text class="ttl" x="378.4" y="20" textLength="70.2" lengthAdjust="spacingAndGlyphs">Potential GWP</text>
<text class="st" x="313.6" y="62.1" textLength="14.4" lengthAdjust="spacingAndGlyphs" style="font-size:10.9px">Dd</text>
<text class="st" x="314.4" y="76.3" textLength="13.2" lengthAdjust="spacingAndGlyphs" style="font-size:10.9px">LC</text>
<text class="st" x="313.6" y="90.4" textLength="20.6" lengthAdjust="spacingAndGlyphs" style="font-size:10.9px">TWI</text>
<!-- scale bar B -->
<rect x="314.2" y="258.3" width="86.2" height="5.6" fill="#fff" stroke="#111" stroke-width="0.9"/>
<rect x="314.2" y="258.3" width="43.6" height="5.6" fill="#000"/>
<text class="sc" x="310.4" y="251" textLength="7.2" lengthAdjust="spacingAndGlyphs">0</text>
<text class="sc" x="349.6" y="251" textLength="15.4" lengthAdjust="spacingAndGlyphs">20</text>
<text class="sc" x="393.2" y="251" textLength="39.6" lengthAdjust="spacingAndGlyphs">40 km</text>
<!-- north arrow B -->
<path d="M498.3,227.2 L513,265.2 L498.3,251 L484,265.2 Z" fill="#fff"/>
<path d="M498.3,227.2 L484,265.2 L498.3,251 Z" fill="#dcdcdc"/>
<path d="M498.3,227.2 L513,265.2 L498.3,251 L484,265.2 Z" fill="none" stroke="#0a0a0a" stroke-width="1.6" stroke-linejoin="miter" stroke-miterlimit="10"/>
<!-- legend B -->
<g transform="translate(283.2,0.4)">
<path d="M32.8,302.8 H29 V310.7 H30.9 M36.6,302.8 H43.2 V308.6 M33,310.7 H42.8" fill="none" stroke="#0a0a0a" stroke-width="1.8"/>
<rect x="29" y="319.2" width="14.6" height="7.6" fill="#f32a20" stroke="#e0352a" stroke-width="0.5"/>
<rect x="29" y="335" width="14.6" height="7.9" fill="#f68d58" stroke="#e08352" stroke-width="0.5"/>
<rect x="29" y="351" width="14.6" height="7.9" fill="#fdfbb6" stroke="#c9c9a2" stroke-width="0.5"/>
<rect x="29" y="366.8" width="14.6" height="7.9" fill="#7bb9dd" stroke="#6ba3c4" stroke-width="0.5"/>
<rect x="29" y="382.8" width="14.6" height="7.7" fill="#2070b5" stroke="#1c66a6" stroke-width="0.5"/>
<text class="leg" x="48" y="311.7" textLength="119" lengthAdjust="spacingAndGlyphs">National Boundary</text>
<text class="leg" x="48" y="327.7" textLength="59.4" lengthAdjust="spacingAndGlyphs">Very Low</text>
<text class="leg" x="48" y="343.7" textLength="26" lengthAdjust="spacingAndGlyphs">Low</text>
<text class="leg" x="48" y="359.8" textLength="60.6" lengthAdjust="spacingAndGlyphs">Moderate</text>
<text class="leg" x="48" y="375.7" textLength="30" lengthAdjust="spacingAndGlyphs">High</text>
<text class="leg" x="48" y="391.5" textLength="62" lengthAdjust="spacingAndGlyphs">Very high</text>
</g>
<text class="st" x="424" y="347.3" textLength="65.6" lengthAdjust="spacingAndGlyphs">Mean=2.75</text>
<text class="st" x="424" y="362.8" textLength="50" lengthAdjust="spacingAndGlyphs">SD=0.93</text>
</svg>
</body></html>
